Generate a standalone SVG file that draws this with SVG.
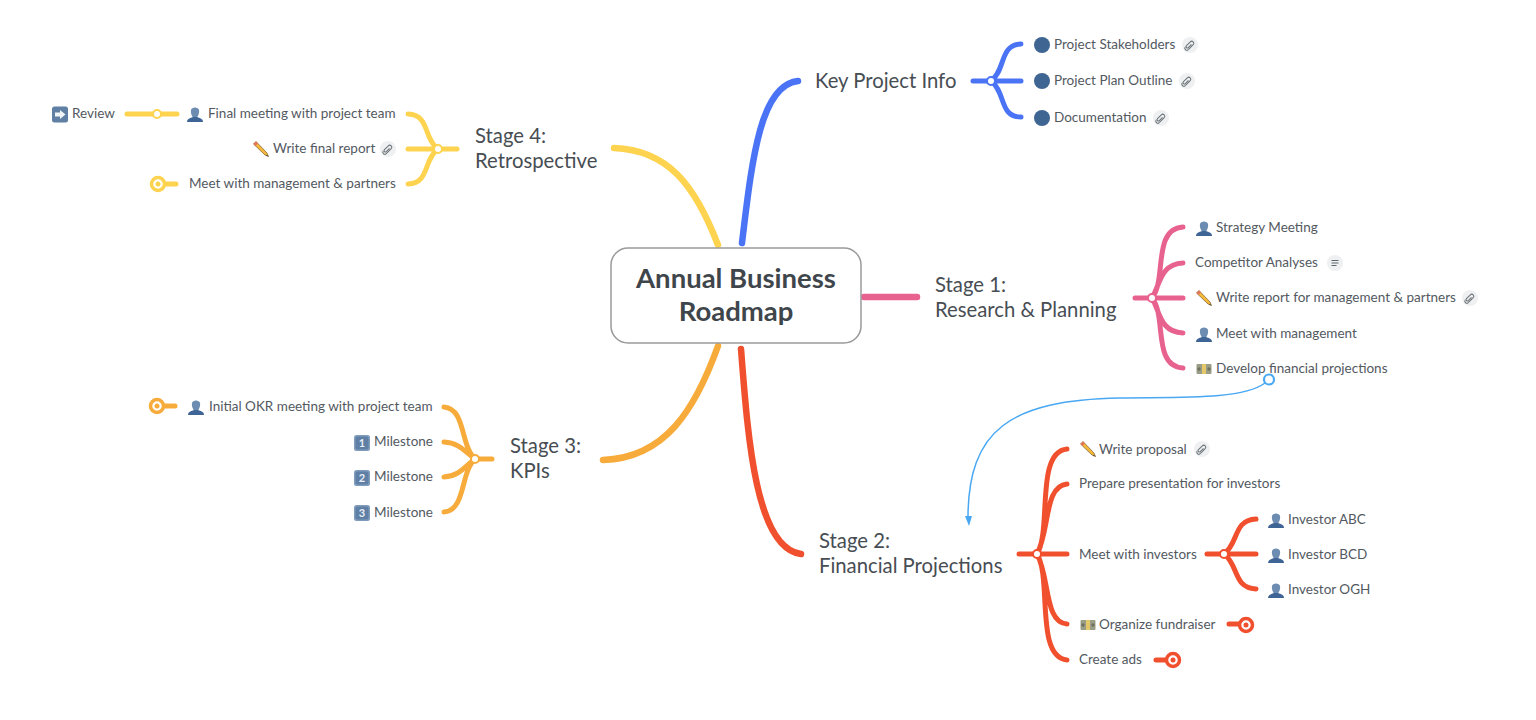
<svg xmlns="http://www.w3.org/2000/svg" width="1536" height="720" viewBox="0 0 1536 720">
<style>
text{font-family:Lato,"Open Sans","Liberation Sans",sans-serif;fill:#53595f;font-size:13.500px}
.main{font-size:20.300px;fill:#474d53}
.center{font-size:27.500px;font-weight:700;fill:#3f464b;text-anchor:middle}
.num{fill:#e8eef5;font-size:11px;font-weight:700;text-anchor:middle}
.l{fill:none;stroke-linecap:round;stroke-width:5}
.m{fill:none;stroke-linecap:round;stroke-width:6.500}
.hub{fill:#fff;stroke-width:2}
.blue{stroke:#4a74f5}.pink{stroke:#e8628f}.red{stroke:#f0502e}.org{stroke:#f7ab3b}.yel{stroke:#fdd34f}
.badge{fill:#eef0f1}
.clip{fill:none;stroke:#6b7278;stroke-width:1}
</style>
<defs>
<g id="person"><path d="M-2.400 3C-4 0 -4.400 -2 -4 -4C-3.500 -7.500 3.500 -7.500 4 -4C4.400 -2 4 0 2.400 3Z" fill="#6d8cb2"/><path d="M-8 8C-8 5 -5 4 -2 3H2C5 4 8 5 8 8Z" fill="#3f6596"/></g>
<g id="pencil"><path d="M-5 -7.500L-7.500 -5L4 6L7.500 7.500L6 4Z" fill="#f5b93a" stroke="#7c5a2a" stroke-width=".7"/><path d="M-5 -7.500L-7.500 -5L-5.500 -3L-3 -5.500Z" fill="#e2745d"/><path d="M5.800 5.800L7.500 7.500L5 6.700Z" fill="#444"/></g>
<g id="money"><rect x="-7.500" y="-5" width="15" height="10" rx="1" fill="#9a9d86"/><rect x="-2" y="-5" width="4" height="10" fill="#e3c768"/><circle cx="-5" cy="0" r="1.700" fill="#6e7160"/><circle cx="5" cy="0" r="1.700" fill="#6e7160"/></g>
<g id="keycap"><rect x="-8" y="-8" width="16" height="16" rx="2.500" fill="#7f9cbd"/><rect x="-6.500" y="-6.500" width="13" height="13" rx="2" fill="#5f7fa5"/></g>
<g id="clip"><circle r="8" class="badge"/><g transform="rotate(-45)"><path class="clip" d="M-2 2H2.500A2 2 0 0 0 2.500 -2H-3A1.300 1.300 0 0 0 -3 0.600H1.500"/><path class="clip" d="M-4.500 2H-2" /><path class="clip" d="M-4.500 2A2 2 0 0 1 -4.500 -2"/></g></g>
<g id="note"><circle r="8" class="badge"/><path d="M-3.500 -2.500H3.500M-3.500 0H3.500M-3.500 2.500H1.500" stroke="#5f666c" stroke-width="1.200" fill="none"/></g>
</defs>

<g id="connectors">
<path class="m blue" d="M742 243C752 160 760 85 798 81"/>
<path class="m yel" d="M718 245C695 185 668 150 614 148"/>
<path class="m pink" d="M864 297H917"/>
<path class="m red" d="M741 349C748 440 756 548 801 554"/>
<path class="m org" d="M718 346C695 410 665 458 603 460"/>

<path class="l blue" d="M973 81H1021M991 81C1006 70 999 45 1021 44M991 81C1006 92 999 117 1021 117"/>
<path class="l pink" d="M1135 298H1183M1152 298C1167 280 1152 229 1183 227M1152 298C1160 285 1160 264 1183 263M1152 298C1160 312 1160 332 1183 333M1152 298C1167 316 1152 366 1183 368"/>
<path class="l red" d="M1019 554H1067M1037 554C1052 530 1035 452 1067 449M1037 554C1050 530 1044 486 1067 484M1037 554C1050 578 1044 622 1067 624M1037 554C1052 578 1035 657 1067 660"/>
<path class="l red" d="M1207 554H1256M1224 554C1239 543 1233 520 1256 519M1224 554C1239 565 1233 588 1256 589"/>
<path class="l yel" d="M457 149H408M438 149C423 138 430 115 408 114M438 149C423 160 430 183 408 184M127 114H177"/>
<path class="l org" d="M492 459H475M475 459C460 445 466 409 444 407M475 459C465 452 460 443 444 442M475 459C465 466 460 476 444 477M475 459C460 473 466 510 444 512"/>
<path d="M1265 383C1242 400 1180 397 1120 398C1010 400 968 430 968 518" fill="none" stroke="#4aa8f2" stroke-width="1.500"/>
<path id="link-arrow" d="M965 516H972L969 526Z" fill="#4aa8f2"/>

<g id="hubs">
<circle class="hub blue" cx="991" cy="81" r="4"/>
<circle class="hub pink" cx="1152" cy="298" r="4"/>
<circle class="hub red" cx="1037" cy="554" r="4"/>
<circle class="hub red" cx="1224" cy="554" r="4"/>
<circle class="hub yel" cx="438" cy="149" r="4"/>
<circle class="hub yel" cx="157" cy="114" r="4"/>
<circle class="hub org" cx="475" cy="459" r="4"/>
</g>
<g id="collapse-markers">
<path class="l red" d="M1229 624H1240M1156 660H1167"/>
<path class="l yel" d="M176 184H165"/>
<path class="l org" d="M175 406H164"/>
<g fill="#fff" stroke-width="3.500">
<circle class="red" cx="1246" cy="625" r="6.500"/>
<circle class="red" cx="1173" cy="660" r="6.500"/>
<circle class="yel" cx="158" cy="184" r="6.500"/>
<circle class="org" cx="157" cy="406" r="6.500"/>
</g>
<circle cx="1246" cy="625" r="2.500" fill="#f0502e"/>
<circle cx="1173" cy="660" r="2.500" fill="#f0502e"/>
<circle cx="158" cy="184" r="2.500" fill="#fdd34f"/>
<circle cx="157" cy="406" r="2.500" fill="#f7ab3b"/>
</g>
<circle id="link-start" cx="1269" cy="379.500" r="5" fill="#fff" stroke="#4aa8f2" stroke-width="2.200"/>
</g>

<g id="center"><rect x="611" y="248" width="250" height="95" rx="17" fill="#fff" stroke="#9a9a9a" stroke-width="1.500"/>
<text class="center" x="736" y="288">Annual Business</text><text class="center" x="736" y="321">Roadmap</text></g>

<g id="key-info"><text class="main" x="815" y="88">Key Project Info</text></g>
<g id="stage1"><text class="main" x="935" y="292">Stage 1:</text><text class="main" x="935" y="317">Research &amp; Planning</text></g>
<g id="stage2"><text class="main" x="819" y="548">Stage 2:</text><text class="main" x="819" y="573">Financial Projections</text></g>
<g id="stage3"><text class="main" x="510" y="453">Stage 3:</text><text class="main" x="510" y="478">KPIs</text></g>
<g id="stage4"><text class="main" x="475" y="143">Stage 4:</text><text class="main" x="475" y="168">Retrospective</text></g>

<g id="n-stakeholders"><circle cx="1042" cy="45" r="8" fill="#3f6593"/><text x="1054" y="49">Project Stakeholders</text><use href="#clip" x="1190" y="45"/></g>
<g id="n-plan"><circle cx="1042" cy="81" r="8" fill="#3f6593"/><text x="1054" y="85">Project Plan Outline</text><use href="#clip" x="1187" y="81"/></g>
<g id="n-doc"><circle cx="1042" cy="118" r="8" fill="#3f6593"/><text x="1054" y="122">Documentation</text><use href="#clip" x="1161" y="118"/></g>

<g id="n-strategy"><use href="#person" x="1204" y="228"/><text x="1216" y="232">Strategy Meeting</text></g>
<g id="n-competitor"><text x="1195" y="267">Competitor Analyses</text><use href="#note" x="1335" y="263"/></g>
<g id="n-writereport"><use href="#pencil" x="1204" y="298"/><text x="1216" y="302">Write report for management &amp; partners</text><use href="#clip" x="1470" y="298"/></g>
<g id="n-meetmgmt"><use href="#person" x="1204" y="334"/><text x="1216" y="338">Meet with management</text></g>
<g id="n-projections"><use href="#money" x="1204" y="369"/><text x="1216" y="373">Develop financial projections</text></g>

<g id="n-proposal"><use href="#pencil" x="1088" y="449"/><text x="1099" y="454">Write proposal</text><use href="#clip" x="1202" y="449"/></g>
<g id="n-presentation"><text x="1079" y="488">Prepare presentation for investors</text></g>
<g id="n-meetinv"><text x="1079" y="559">Meet with investors</text></g>
<g id="n-abc"><use href="#person" x="1276" y="520"/><text x="1288" y="524">Investor ABC</text></g>
<g id="n-bcd"><use href="#person" x="1276" y="555"/><text x="1288" y="559">Investor BCD</text></g>
<g id="n-ogh"><use href="#person" x="1276" y="590"/><text x="1288" y="594">Investor OGH</text></g>
<g id="n-fundraiser"><use href="#money" x="1088" y="625"/><text x="1099" y="629">Organize fundraiser</text></g>
<g id="n-ads"><text x="1079" y="664">Create ads</text></g>

<g id="n-initial"><use href="#person" x="196" y="407"/><text x="209" y="411">Initial OKR meeting with project team</text></g>
<g id="n-m1"><use href="#keycap" x="362" y="443"/><text class="num" x="362" y="447">1</text><text x="374" y="446">Milestone</text></g>
<g id="n-m2"><use href="#keycap" x="362" y="478"/><text class="num" x="362" y="482">2</text><text x="374" y="481">Milestone</text></g>
<g id="n-m3"><use href="#keycap" x="362" y="513"/><text class="num" x="362" y="517">3</text><text x="374" y="517">Milestone</text></g>

<g id="n-review"><rect x="52" y="106.500" width="16" height="16" rx="2.500" fill="#5f7fa5"/><path d="M55 112.500H60V110L65.500 114.500L60 119V116.500H55Z" fill="#f2f5f8"/><text x="72" y="118">Review</text></g>
<g id="n-final"><use href="#person" x="195" y="114"/><text x="208" y="118">Final meeting with project team</text></g>
<g id="n-writefinal"><use href="#pencil" x="261" y="149"/><text x="273" y="153">Write final report</text><use href="#clip" x="388" y="149"/></g>
<g id="n-meetmp"><text x="189" y="188">Meet with management &amp; partners</text></g>
</svg>
